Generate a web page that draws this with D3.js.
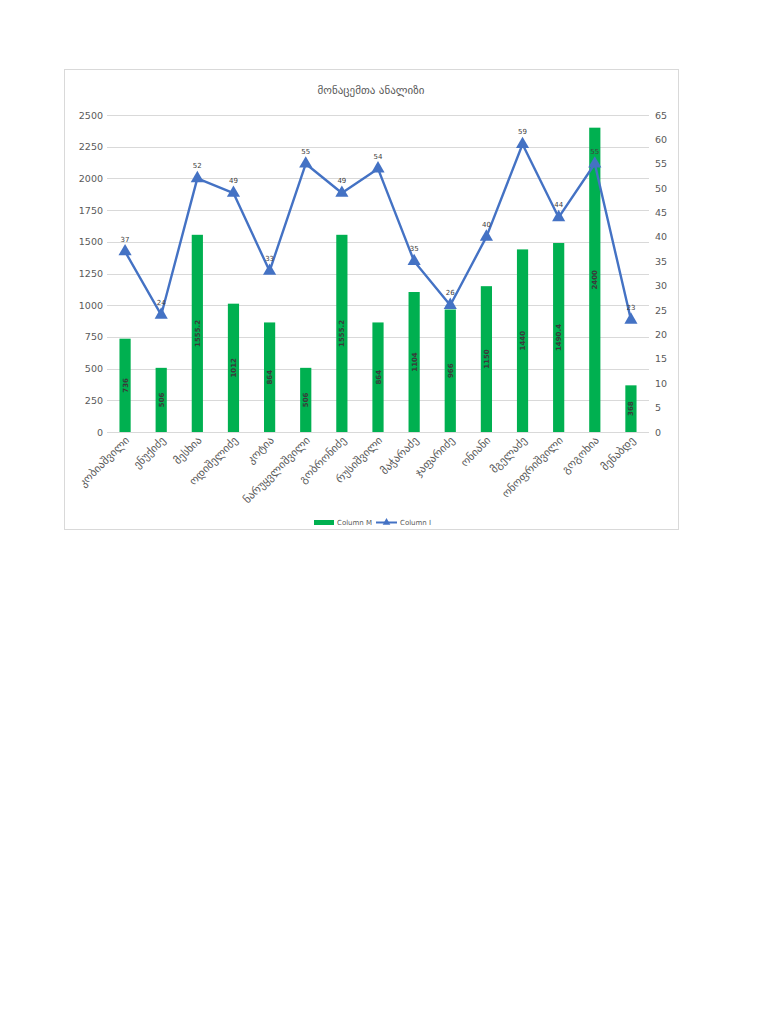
<!DOCTYPE html>
<html><head><meta charset="utf-8">
<script src="https://cdn.jsdelivr.net/npm/d3@7"></script>
<style>
body{margin:0;background:#fff;}
text{font-family:"DejaVu Sans","Noto Sans",sans-serif;}
</style></head>
<body><svg id="c" width="768" height="1024"></svg>
<script>
const categories = ["კობიაშვილი","ენუქიძე","მესხია","ოდიშელიძე","კოტია","ნარუყვლიშვილი","გობრონიძე","რუსიშვილი","მაჭარაძე","ჯაფარიძე","ონიანი","მგელაძე","ონოფრიშვილი","გოგოხია","მენაბდე"];
const columnM = [736,506,1555.2,1012,864,506,1555.2,864,1104,966,1150,1440,1490.4,2400,368];
const columnI = [37,24,52,49,33,55,49,54,35,26,40,59,44,55,23];
const leftTicks = [0,250,500,750,1000,1250,1500,1750,2000,2250,2500];
const rightTicks = [0,5,10,15,20,25,30,35,40,45,50,55,60,65];
const title = "მონაცემთა ანალიზი";
const seriesNames = ["Column M","Column I"];

const svg = d3.select("#c");
const grey = "#595959";
const green = "#00B050", blue = "#4472C4";

svg.append("rect").attr("x",64.5).attr("y",69.5).attr("width",614).attr("height",460)
  .attr("fill","#fff").attr("stroke","#d9d9d9");

const x0 = 107, x1 = 649, yTop = 115, yBot = 432;
const x = d3.scaleBand().domain(categories).range([x0,x1]).paddingInner(0.69).paddingOuter(0.345);
const yL = d3.scaleLinear().domain([0,2500]).range([yBot,yTop]);
const yR = d3.scaleLinear().domain([0,65]).range([yBot,yTop]);

svg.append("text").attr("x",371).attr("y",94).attr("text-anchor","middle")
  .attr("font-size",11).attr("fill",grey).text(title);

// gridlines
svg.append("g").selectAll("line").data(leftTicks).join("line")
  .attr("x1",x0).attr("x2",x1).attr("y1",d=>Math.round(yL(d))+0.5).attr("y2",d=>Math.round(yL(d))+0.5)
  .attr("stroke","#d9d9d9").attr("stroke-width",1);

// left axis
const gl = svg.append("g").attr("transform",`translate(${x0-2},0)`)
  .call(d3.axisLeft(yL).tickValues(leftTicks).tickSize(0).tickPadding(2).tickFormat(d3.format("d")));
gl.select(".domain").remove();
gl.selectAll("text").attr("font-size",9.5).attr("fill",grey).attr("font-family","Open Sans, sans-serif");

// right axis
const gr = svg.append("g").attr("transform",`translate(${x1},0)`)
  .call(d3.axisRight(yR).tickValues(rightTicks).tickSize(0).tickPadding(6).tickFormat(d3.format("d")));
gr.select(".domain").remove();
gr.selectAll("text").attr("font-size",9.5).attr("fill",grey).attr("font-family","Open Sans, sans-serif");

// bars
svg.append("g").selectAll("rect").data(columnM).join("rect")
  .attr("x",(d,i)=>x(categories[i])).attr("width",x.bandwidth())
  .attr("y",d=>yL(d)).attr("height",d=>yBot-yL(d)).attr("fill",green);

// bar labels
svg.append("g").selectAll("text").data(columnM).join("text")
  .attr("transform",(d,i)=>`translate(${x(categories[i])+x.bandwidth()/2+2.5},${(yL(d)+yBot)/2}) rotate(-90)`)
  .attr("text-anchor","middle").attr("font-size",7).attr("font-weight","bold").attr("fill","#3a3a3a")
  .text(d=>String(d));

// x axis line
svg.append("line").attr("x1",x0).attr("x2",x1).attr("y1",yBot+0.5).attr("y2",yBot+0.5).attr("stroke","#d9d9d9");

// x labels
svg.append("g").selectAll("text").data(categories).join("text")
  .attr("transform",d=>`translate(${x(d)+x.bandwidth()/2+5},${yBot+9}) rotate(-45)`)
  .attr("text-anchor","end").attr("font-size",11).attr("fill",grey).text(d=>d);

// line
const lineGen = d3.line().x((d,i)=>x(categories[i])+x.bandwidth()/2).y(d=>yR(d));
svg.append("path").datum(columnI).attr("d",lineGen).attr("fill","none")
  .attr("stroke",blue).attr("stroke-width",2.4).attr("stroke-linejoin","round");
const tri = d3.symbol().type(d3.symbolTriangle).size(75);
svg.append("g").selectAll("path").data(columnI).join("path")
  .attr("d",tri).attr("transform",(d,i)=>`translate(${x(categories[i])+x.bandwidth()/2},${yR(d)})`)
  .attr("fill",blue);
svg.append("g").selectAll("text").data(columnI).join("text")
  .attr("x",(d,i)=>x(categories[i])+x.bandwidth()/2).attr("y",d=>yR(d)-10)
  .attr("text-anchor","middle").attr("font-size",7).attr("fill","#404040").text(d=>d);

// legend
const lg = svg.append("g");
lg.append("rect").attr("x",314).attr("y",520).attr("width",20).attr("height",5).attr("fill",green);
lg.append("text").attr("x",337).attr("y",525).attr("font-size",7).attr("fill",grey).text(seriesNames[0]);
lg.append("line").attr("x1",376).attr("x2",397).attr("y1",522.5).attr("y2",522.5).attr("stroke",blue).attr("stroke-width",2);
lg.append("path").attr("d",d3.symbol().type(d3.symbolTriangle).size(25)).attr("transform","translate(386.5,522.5)").attr("fill",blue);
lg.append("text").attr("x",400).attr("y",525).attr("font-size",7).attr("fill",grey).text(seriesNames[1]);
</script></body></html>
